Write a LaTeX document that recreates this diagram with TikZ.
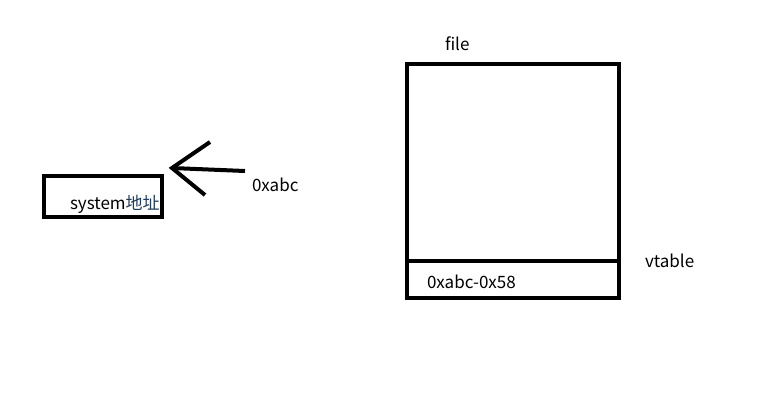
\documentclass[tikz,border=0pt]{standalone}
\usepackage{fontspec}
\setmainfont{Noto Sans CJK SC}
\begin{document}
\begin{tikzpicture}[x=1pt,y=-1pt,line width=4pt,
  lbl/.style={inner sep=0pt,anchor=west,font=\fontsize{17}{20}\selectfont}]
\useasboundingbox[fill=white] (0,0) rectangle (778,400);
\draw (44,176) rectangle (162,217);
\node[lbl] (sys) at (68,204) {system\textcolor[HTML]{1F3A5A}{地址}};
\coordinate (tip) at (172,168);
\coordinate (tail) at (245,171);
\coordinate (h1) at (210,142);
\coordinate (h2) at (205,195);
\draw (tail) -- (tip);
\draw (h1) -- (tip) -- (h2);
\node[lbl] (addr) at (250,185) {0xabc};
\draw (407,64) rectangle (619,298);
\draw (407,261) -- (619,261);
\node[lbl] (vt) at (425,282) {0xabc-0x58};
\node[lbl] (file) at (443,44) {file};
\node[lbl] (vtable) at (643,261) {vtable};
\end{tikzpicture}
\end{document}
